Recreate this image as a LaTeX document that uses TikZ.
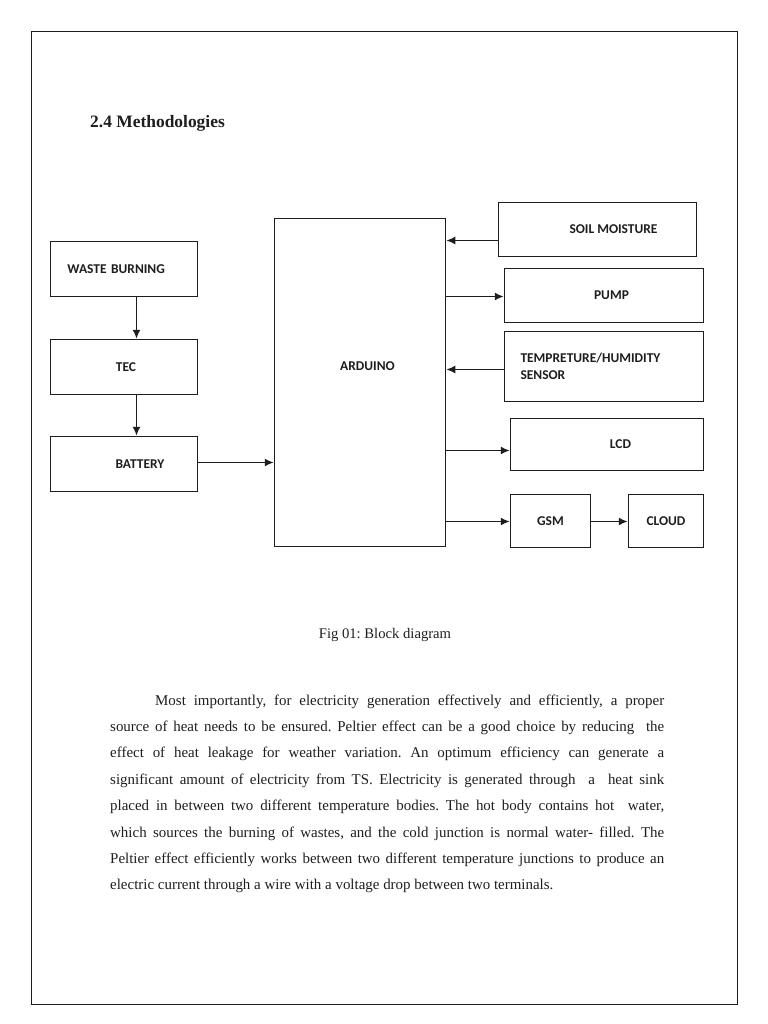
\documentclass[tikz,border=0pt]{standalone}
\usepackage{fontspec}
\setmainfont{Liberation Serif}
\newfontfamily\boxfont{Carlito}
\usetikzlibrary{arrows.meta}
\definecolor{ink}{HTML}{1E1E1E}
\frenchspacing
\tikzset{
  blk/.style={draw=ink, line width=1.5bp, rectangle, inner sep=0pt, minimum width=#1, font=\boxfont\bfseries\fontsize{13.5}{16}\selectfont, text=ink},
  arr/.style={draw=ink, line width=1.6bp, -{Latex[length=9bp,width=8bp]}},
  body/.style={anchor=base west, inner sep=0pt, font=\fontsize{15}{17}\selectfont, text=ink}
}
\begin{document}
\begin{tikzpicture}[x=1bp,y=-1bp]
\useasboundingbox (0,0) rectangle (768,1024);
\fill[white] (0,0) rectangle (768,1024);
\draw[ink, line width=1.7bp] (31.5,31.5) rectangle (737.5,1004.5);
\node[anchor=base west, inner sep=0pt, font=\bfseries\fontsize{17.5}{20}\selectfont, text=ink] (head) at (90,127) {2.4 Methodologies};

% left chain
\node[blk=147bp, minimum height=55bp, text width=113bp, inner xsep=17bp, align=left] (wb) at (124,269) {WASTE BURNING};
\node[blk=147bp, minimum height=55bp] (tec) at (124,367) {\hspace*{4bp}TEC};
\node[blk=147bp, minimum height=55bp] (bat) at (124,464) {\hspace*{32bp}BATTERY};
% arduino
\node[blk=171bp, minimum height=328bp] (ard) at (360,382.5) {\hspace*{15bp}\raisebox{12bp}[0pt][0pt]{ARDUINO}};
% right side
\node[blk=198bp, minimum height=54bp] (soil) at (597.5,229.5) {\hspace*{32bp}SOIL MOISTURE};
\node[blk=199bp, minimum height=54bp] (pump) at (604,295.5) {\hspace*{15bp}PUMP};
\node[blk=199bp, minimum height=70bp, text width=167bp, inner xsep=16bp, align=left] (temp) at (604,366.5) {TEMPRETURE/HUMIDITY\\[1pt]SENSOR\\[8pt]};
\node[blk=193bp, minimum height=52bp] (lcd) at (607,444.5) {\hspace*{27bp}LCD};
\node[blk=80bp, minimum height=53bp] (gsm) at (550.5,521) {GSM};
\node[blk=75bp, minimum height=53bp] (cloud) at (666,521) {CLOUD};

% connectors
\coordinate (w1) at ([xshift=12.5bp]wb.south);
\draw[arr] (w1) -- (w1 |- tec.north);
\coordinate (c1) at ([xshift=12.5bp]tec.south);
\draw[arr] (c1) -- (c1 |- bat.north);
\coordinate (b1) at ([yshift=1.5bp]bat.east);
\draw[arr] (b1) -- (b1 -| ard.west);
\coordinate (s1) at ([yshift=-11bp]soil.west);
\draw[arr] (s1) -- (s1 -| ard.east);
\coordinate (p1) at ([yshift=-1bp]pump.west);
\draw[arr] (p1 -| ard.east) -- (p1);
\coordinate (t1) at ([yshift=-3bp]temp.west);
\draw[arr] (t1) -- (t1 -| ard.east);
\coordinate (l1) at ([yshift=-6bp]lcd.west);
\draw[arr] (l1 -| ard.east) -- (l1);
\coordinate (g1) at ([yshift=-0.5bp]gsm.west);
\draw[arr] (g1 -| ard.east) -- (g1);
\coordinate (g2) at ([yshift=-0.5bp]gsm.east);
\draw[arr] (g2) -- (g2 -| cloud.west);

% caption
\node[anchor=base, inner sep=0pt, font=\fontsize{14.7}{17}\selectfont, text=ink] (cap) at (385,638) {Fig 01: Block diagram};

% paragraph
\node[body] (l1t) at (155,705) {\hbox to 509bp{Most importantly, for electricity generation effectively and efficiently, a proper}};
\node[body] (l2t) at (110,731.4) {\hbox to 554bp{source of heat needs to be ensured. Peltier effect can be a good choice by reducing \ the}};
\node[body] (l3t) at (110,757.8) {\hbox to 554bp{effect of heat leakage for weather variation. An optimum efficiency can generate a}};
\node[body] (l4t) at (110,784.2) {\hbox to 554bp{significant amount of electricity from TS. Electricity is generated through \ a \ heat sink}};
\node[body] (l5t) at (110,810.6) {\hbox to 554bp{placed in between two different temperature bodies. The hot body contains hot \ water,}};
\node[body] (l6t) at (110,837) {\hbox to 554bp{which sources the burning of wastes, and the cold junction is normal water- filled. The}};
\node[body] (l7t) at (110,863.4) {\hbox to 554bp{Peltier effect efficiently works between two different temperature junctions to produce an}};
\node[body] (l8t) at (110,889.8) {electric current through a wire with a voltage drop between two terminals.};
\end{tikzpicture}
\end{document}
